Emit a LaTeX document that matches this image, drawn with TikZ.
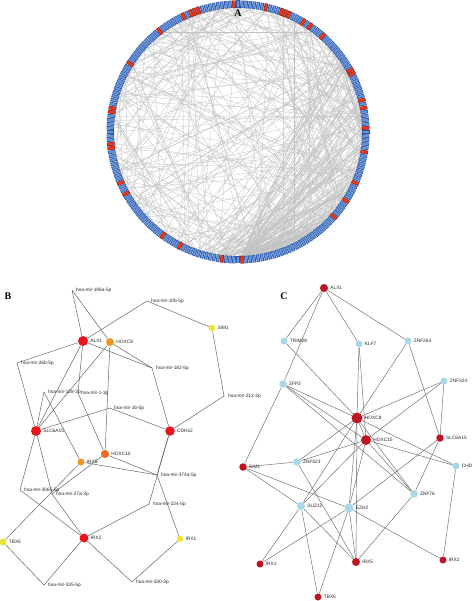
\documentclass[tikz,border=0pt]{standalone}
\usepackage{fontspec}
\setmainfont{Liberation Sans}
\newfontfamily\panelfont{Liberation Serif}
\definecolor{ringblue}{RGB}{100,150,220}
\definecolor{ringblueD}{RGB}{45,85,165}
\definecolor{ringred}{RGB}{235,60,30}
\definecolor{ringredD}{RGB}{175,35,20}
\definecolor{bred}{RGB}{232,22,28}
\definecolor{borange}{RGB}{240,150,30}
\definecolor{borange2}{RGB}{240,105,30}
\definecolor{byellow}{RGB}{240,228,50}
\definecolor{cred}{RGB}{190,20,35}
\definecolor{cblue}{RGB}{168,216,232}
\definecolor{edgeB}{RGB}{90,90,90}
\definecolor{edgeC}{RGB}{105,105,105}
\pgfdeclarelayer{background}
\pgfsetlayers{background,main}
\begin{document}
\begin{tikzpicture}[x=1pt,y=-1pt,
  chord/.style={draw=gray!48, line width=0.3pt},
  segout/.style={line width=3.5pt, line cap=butt},
  segin/.style={line width=1.9pt, line cap=butt},
  lbl/.style={font=\fontsize{4.8}{5}\selectfont, inner sep=0pt, text=black!85},
  gnode/.style={circle, inner sep=0pt, draw=none},
  bedge/.style={draw=edgeB, line width=0.45pt},
  cedge/.style={draw=edgeC, line width=0.45pt},
  ptitle/.style={font=\panelfont\bfseries\fontsize{10}{10}\selectfont, inner sep=0pt}
]
\useasboundingbox (0,0) rectangle (474,601);

%================ Panel A =================
\begin{scope}[shift={(238,132)}]
\foreach \i in {0,...,199}{
  \pgfmathsetmacro\t{90+1.8*\i}
  \coordinate (p\i) at (\t:124pt);
  \coordinate (q\i) at (\t:131.5pt);
}
\end{scope}
\pgfmathsetseed{4242}
\foreach \k in {1,...,240}{
  \pgfmathtruncatemacro\ii{int(rnd*200)}
  \pgfmathtruncatemacro\jj{int(rnd*200)}
  \draw[chord] (p\ii) -- (p\jj);
}
\foreach \k in {1,...,75}{
  \pgfmathtruncatemacro\jj{104+int(rnd*70)}
  \draw[chord] (p101) -- (p\jj);
}
\foreach \k in {1,...,60}{
  \pgfmathtruncatemacro\ii{92+int(rnd*20)}
  \pgfmathtruncatemacro\jj{115+int(rnd*55)}
  \draw[chord] (p\ii) -- (p\jj);
}
\foreach \k in {1,...,45}{
  \pgfmathtruncatemacro\ii{120+int(rnd*55)}
  \pgfmathtruncatemacro\jj{int(rnd*200)}
  \draw[chord] (p\ii) -- (p\jj);
}
% ring of nodes
\foreach \i in {0,...,199}{
  \draw[segout, draw=ringblueD] (p\i) -- (q\i);
}
\begin{scope}[shift={(238,132)}]
\foreach \i in {0,...,199}{
  \pgfmathsetmacro\t{90+1.8*\i}
  \draw[segin, draw=ringblue] (\t:124.6pt) -- (\t:130.9pt);
}
\foreach \a in {2,10,15,27,29,49,55,60,66,68,70,77,91,108,110,112,116,128,148,169,171,185,187,203,208,234,243,263,272,319,327,336,351}{
  \pgfmathsetmacro\s{90+1.8*round((\a-90)/1.8)}
  \draw[segout, draw=ringredD] (\s:124pt) -- (\s:131.5pt);
  \draw[segin, draw=ringred] (\s:124.6pt) -- (\s:130.9pt);
}
\end{scope}
\node[ptitle] (labA) at (238,13) {A};

%================ Panel B =================
\node[ptitle] (labB) at (8,296) {B};
\coordinate[label={[lbl,label distance=4pt]right:hsa-mir-196a-5p}] (b196) at (72,290);
\coordinate[label={[lbl,label distance=4pt]right:hsa-mir-10b-5p}] (b10b) at (147,301);
\coordinate[label={[lbl,label distance=4pt]right:hsa-mir-26b-5p}] (b26b) at (17,363);
\coordinate[label={[lbl,label distance=4pt]right:hsa-mir-182-5p}] (b182) at (152,368);
\coordinate[label={[lbl,label distance=4pt]right:hsa-mir-212-3p}] (b212) at (224,396);
\coordinate[label={[lbl,label distance=4pt]right:hsa-mir-128-3p}] (b128) at (44,392);
\coordinate[label={[lbl,label distance=3pt]right:hsa-mir-1-3p}] (b1) at (78,393);
\coordinate[label={[lbl,label distance=4pt]right:hsa-mir-16-5p}] (b16) at (110,408);
\coordinate[label={[lbl,label distance=4pt]right:hsa-mir-374a-5p}] (b374) at (157,475);
\coordinate[label={[lbl,label distance=4pt]right:hsa-mir-3065-5p}] (b3065) at (20,490);
\coordinate[label={[lbl,label distance=4pt]right:hsa-mir-27a-3p}] (b27a) at (52,494);
\coordinate[label={[lbl,label distance=4pt]right:hsa-mir-224-5p}] (b224) at (149,504);
\coordinate[label={[lbl,label distance=4pt]right:hsa-mir-335-5p}] (b335) at (44,585);
\coordinate[label={[lbl,label distance=4pt]right:hsa-mir-330-3p}] (b330) at (132,582);

\node[gnode, fill=byellow, minimum size=6.5pt, label={[lbl,label distance=2pt]right:SIM1}] (bSIM1) at (212,328) {};
\node[gnode, fill=bred, minimum size=10pt, label={[lbl,label distance=2pt]right:ALX1}] (bALX1) at (83,341) {};
\node[gnode, fill=borange, minimum size=8pt, label={[lbl,label distance=2pt]right:HOXC8}] (bHOXC8) at (110,342) {};
\node[gnode, fill=bred, minimum size=10pt, label={[lbl,label distance=2pt]right:SLC6A15}] (bSLC) at (36,431) {};
\node[gnode, fill=bred, minimum size=9.5pt, label={[lbl,label distance=2pt]right:CDH12}] (bCDH12) at (170,431) {};
\node[gnode, fill=borange2, minimum size=8pt, label={[lbl,label distance=2pt]right:HOXC10}] (bHOXC10) at (105,454) {};
\node[gnode, fill=borange, minimum size=7pt, label={[lbl,label distance=2pt]right:IRX5}] (bIRX5) at (81,462) {};
\node[gnode, fill=byellow, minimum size=7pt, label={[lbl,label distance=2pt]right:TBX5}] (bTBX5) at (3,542) {};
\node[gnode, fill=bred, minimum size=9pt, label={[lbl,label distance=2pt]right:IRX2}] (bIRX2) at (84,538) {};
\node[gnode, fill=byellow, minimum size=6.5pt, label={[lbl,label distance=2pt]right:IRX1}] (bIRX1) at (180,539) {};

\begin{pgfonlayer}{background}
\foreach \u/\v in {b196/bALX1, b196/bHOXC8, b10b/bALX1, b10b/bSIM1, bSIM1/b212, b212/bCDH12,
  bALX1/b26b, bALX1/b182, bHOXC8/b182, b182/bCDH12, b26b/bSLC, bALX1/bSLC, bALX1/b1,
  bHOXC8/bSLC, bHOXC8/bHOXC10, b128/bSLC, b128/bIRX5, b1/bHOXC10, b16/bSLC, b16/bCDH12,
  bSLC/b3065, bSLC/b27a, b3065/bIRX2, b27a/bIRX2, bIRX5/b374, bHOXC10/b374, bCDH12/b374,
  bCDH12/b224, b374/bIRX1, b224/bIRX2, bTBX5/b335, bIRX2/b335, bIRX2/b330, bIRX1/b330,
  bTBX5/bIRX5, bHOXC10/b27a}{
  \draw[bedge] (\u) -- (\v);
}
\end{pgfonlayer}

%================ Panel C =================
\node[ptitle] (labC) at (284,296) {C};
\node[gnode, fill=cred, minimum size=8pt, label={[lbl,label distance=2pt]right:ALX1}] (cALX1) at (324,288) {};
\node[gnode, fill=cblue, minimum size=7pt, label={[lbl,label distance=2pt]right:TRIM28}] (cTRIM28) at (284,341) {};
\node[gnode, fill=cblue, minimum size=7pt, label={[lbl,label distance=2pt]right:KLF7}] (cKLF7) at (359,344) {};
\node[gnode, fill=cblue, minimum size=7pt, label={[lbl,label distance=2pt]right:ZNF263}] (cZNF263) at (408,341) {};
\node[gnode, fill=cblue, minimum size=7.5pt, label={[lbl,label distance=2pt]right:ZFP2}] (cZFP2) at (283,384) {};
\node[gnode, fill=cblue, minimum size=7pt, label={[lbl,label distance=2pt]right:ZNF324}] (cZNF324) at (444,381) {};
\node[gnode, fill=cred, minimum size=11pt, label={[lbl,label distance=2pt]right:HOXC8}] (cHOXC8) at (357,418) {};
\node[gnode, fill=cred, minimum size=10pt, label={[lbl,label distance=2pt]right:HOXC10}] (cHOXC10) at (366,440) {};
\node[gnode, fill=cred, minimum size=7.5pt, label={[lbl,label distance=2pt]right:SLC6A15}] (cSLC) at (440,438) {};
\node[gnode, fill=cblue, minimum size=7pt, label={[lbl,label distance=2pt]right:CHD}] (cCHD) at (456,466) {};
\node[gnode, fill=cred, minimum size=7.5pt, label={[lbl,label distance=2pt]right:SIM1}] (cSIM1) at (243,467) {};
\node[gnode, fill=cblue, minimum size=7.5pt, label={[lbl,label distance=2pt]right:ZNF423}] (cZNF423) at (297,462) {};
\node[gnode, fill=cblue, minimum size=7.5pt, label={[lbl,label distance=2pt]right:ZNF76}] (cZNF76) at (414,494) {};
\node[gnode, fill=cblue, minimum size=8pt, label={[lbl,label distance=2pt]right:SUZ12}] (cSUZ12) at (301,506) {};
\node[gnode, fill=cblue, minimum size=9pt, label={[lbl,label distance=2pt]right:EZH2}] (cEZH2) at (349,508) {};
\node[gnode, fill=cred, minimum size=7pt, label={[lbl,label distance=2pt]right:IRX1}] (cIRX1) at (260,564) {};
\node[gnode, fill=cred, minimum size=8pt, label={[lbl,label distance=2pt]right:IRX5}] (cIRX5) at (356,562) {};
\node[gnode, fill=cred, minimum size=7pt, label={[lbl,label distance=2pt]right:IRX2}] (cIRX2) at (443,560) {};
\node[gnode, fill=cred, minimum size=7pt, label={[lbl,label distance=2pt]right:TBX5}] (cTBX5) at (318,597) {};

\begin{pgfonlayer}{background}
\foreach \u/\v in {cALX1/cTRIM28, cALX1/cKLF7, cALX1/cZNF263, cALX1/cZFP2, cZFP2/cSIM1,
  cTRIM28/cHOXC8, cKLF7/cHOXC8, cKLF7/cHOXC10, cZNF263/cHOXC8, cZNF263/cSLC,
  cZFP2/cHOXC8, cZFP2/cHOXC10, cZFP2/cZNF76,
  cZNF324/cHOXC8, cZNF324/cHOXC10, cZNF324/cSLC,
  cHOXC8/cZNF423, cHOXC8/cSUZ12, cHOXC8/cEZH2, cHOXC8/cIRX5, cHOXC8/cZNF76, cHOXC8/cCHD, cHOXC8/cHOXC10,
  cHOXC10/cZNF423, cHOXC10/cSUZ12, cHOXC10/cEZH2, cHOXC10/cZNF76, cHOXC10/cCHD,
  cSLC/cZNF76, cSLC/cEZH2, cCHD/cIRX2, cZNF76/cIRX5,
  cSIM1/cZNF423, cSIM1/cSUZ12, cSIM1/cEZH2, cZNF423/cIRX5,
  cSUZ12/cIRX1, cSUZ12/cIRX5, cSUZ12/cTBX5, cEZH2/cIRX1, cEZH2/cIRX5, cEZH2/cTBX5, cEZH2/cIRX2}{
  \draw[cedge] (\u) -- (\v);
}
\end{pgfonlayer}
\end{tikzpicture}
\end{document}
